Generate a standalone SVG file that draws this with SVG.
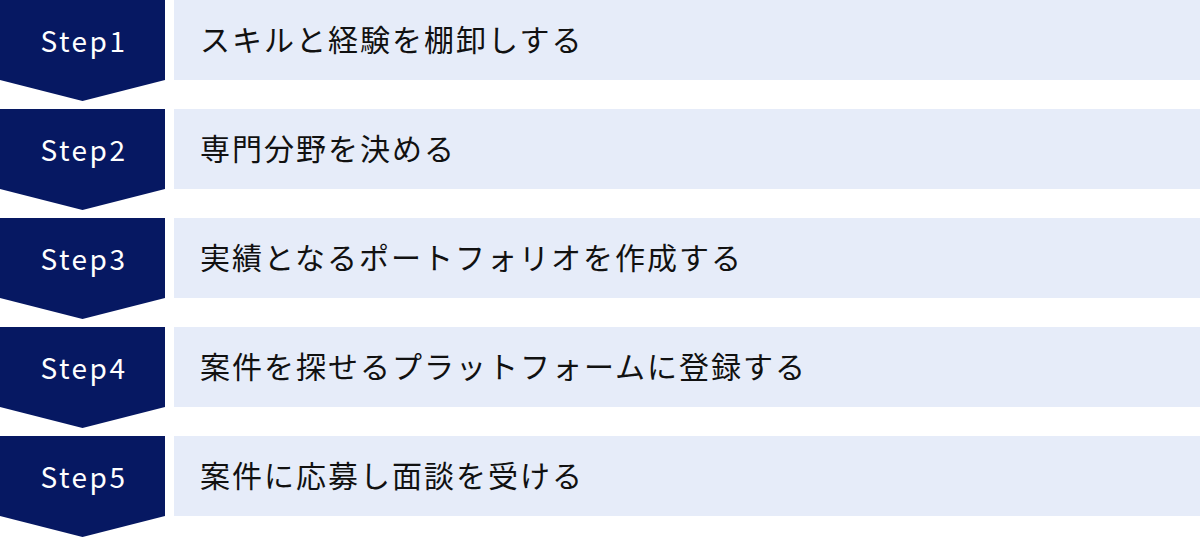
<svg xmlns="http://www.w3.org/2000/svg" width="1200" height="538" viewBox="0 0 1200 538">
<defs>
<style>
.chev{fill:#061862}
.bar{fill:#E6ECF9}
.step{font-family:"Noto Sans CJK JP","Noto Sans",sans-serif;font-size:28px;fill:#ffffff;text-anchor:middle;letter-spacing:2.5px}
.label{font-family:"Noto Sans CJK JP","Noto Sans",sans-serif;font-size:30px;fill:#111111;letter-spacing:2px}
</style>
<path id="chevShape" d="M0,0 H165 V80 L82.5,101 L0,80 Z"/>
</defs>
<rect width="1200" height="538" fill="#ffffff"/>
<g id="connectors"></g>
<g id="step1" transform="translate(0,0)">
<use href="#chevShape" class="chev"/>
<rect class="bar" x="174" y="0" width="1026" height="80"/>
<text class="step" x="84" y="52">Step1</text>
<text class="label" x="200" y="51">スキルと経験を棚卸しする</text>
</g>
<g id="step2" transform="translate(0,109)">
<use href="#chevShape" class="chev"/>
<rect class="bar" x="174" y="0" width="1026" height="80"/>
<text class="step" x="84" y="52">Step2</text>
<text class="label" x="200" y="51">専門分野を決める</text>
</g>
<g id="step3" transform="translate(0,218)">
<use href="#chevShape" class="chev"/>
<rect class="bar" x="174" y="0" width="1026" height="80"/>
<text class="step" x="84" y="52">Step3</text>
<text class="label" x="200" y="51">実績となるポートフォリオを作成する</text>
</g>
<g id="step4" transform="translate(0,327)">
<use href="#chevShape" class="chev"/>
<rect class="bar" x="174" y="0" width="1026" height="80"/>
<text class="step" x="84" y="52">Step4</text>
<text class="label" x="200" y="51">案件を探せるプラットフォームに登録する</text>
</g>
<g id="step5" transform="translate(0,436)">
<use href="#chevShape" class="chev"/>
<rect class="bar" x="174" y="0" width="1026" height="80"/>
<text class="step" x="84" y="52">Step5</text>
<text class="label" x="200" y="51">案件に応募し面談を受ける</text>
</g>
</svg>
